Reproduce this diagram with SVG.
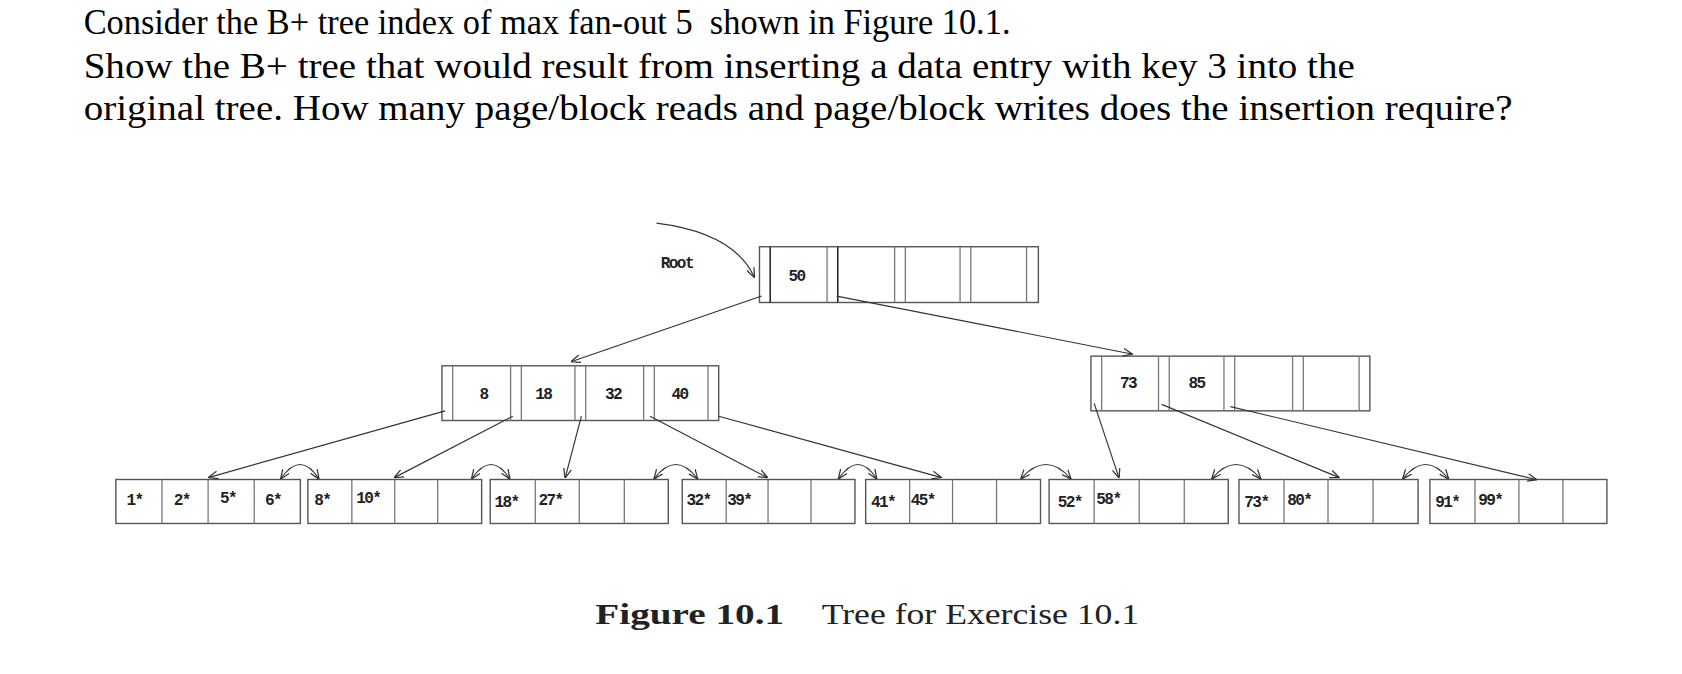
<svg xmlns="http://www.w3.org/2000/svg" width="1682" height="674" viewBox="0 0 1682 674">
<defs>
<marker id="ah" viewBox="0 0 10 10" refX="9" refY="5" markerWidth="9" markerHeight="9" orient="auto-start-reverse" markerUnits="userSpaceOnUse"><path d="M0,1 L10,5 L0,9" fill="none" stroke="#333" stroke-width="1.3"/></marker>
<style>
.b{fill:#fff;stroke:#555;stroke-width:1.3}
.l{stroke:#777;stroke-width:1.2}
.d{stroke:#222;stroke-width:1.4}
.m{font-family:"Liberation Mono",monospace;font-size:15px;font-weight:bold;letter-spacing:-1.5px;fill:#222}
.t{font-family:"Liberation Serif",serif;font-size:33px;fill:#000}
.c{stroke:#333;stroke-width:1.1;fill:none;marker-end:url(#ah)}
.s{stroke:#333;stroke-width:1.1;fill:none;marker-end:url(#ah);marker-start:url(#ah)}
</style>
</defs>
<rect width="1682" height="674" fill="#fff"/>
<g transform="scale(1.0727)">
<g id="question">
<text class="t" x="78" y="32" textLength="864" lengthAdjust="spacingAndGlyphs" xml:space="preserve">Consider the B+ tree index of max fan-out 5  shown in Figure 10.1.</text>
<text class="t" x="78" y="73" textLength="1185" lengthAdjust="spacingAndGlyphs">Show the B+ tree that would result from inserting a data entry with key 3 into the</text>
<text class="t" x="78" y="112" textLength="1332" lengthAdjust="spacingAndGlyphs">original tree. How many page/block reads and page/block writes does the insertion require?</text>
</g>
<g id="root">
<text class="m" x="616" y="250">Root</text>
<rect class="b" x="708" y="230" width="260" height="52"/>
<path class="d" d="M718,230V282M781,230V282"/>
<path class="l" d="M771,230V282M834,230V282M844,230V282M895,230V282M905,230V282M957,230V282"/>
<text class="m" x="735" y="262">50</text>
</g>
<g id="internal-left">
<rect class="b" x="412" y="341" width="258" height="51"/>
<path class="l" d="M422,341V392M476,341V392M486,341V392M536,341V392M546,341V392M600,341V392M610,341V392M660,341V392"/>
<text class="m" x="447" y="372">8</text><text class="m" x="499" y="372">18</text><text class="m" x="564" y="372">32</text><text class="m" x="626" y="372">40</text>
</g>
<g id="internal-right">
<rect class="b" x="1017" y="332" width="260" height="51"/>
<path class="l" d="M1027,332V383M1080,332V383M1090,332V383M1141,332V383M1151,332V383M1205,332V383M1215,332V383M1267,332V383"/>
<text class="m" x="1044" y="362">73</text><text class="m" x="1108" y="362">85</text>
</g>
<g id="leaf1"><rect class="b" x="108" y="447" width="172" height="41"/><path class="l" d="M151,447V488M194,447V488M237,447V488"/>
<text class="m" x="118" y="471">1*</text><text class="m" x="162" y="471">2*</text><text class="m" x="205" y="469">5*</text><text class="m" x="247" y="471">6*</text></g>
<g id="leaf2"><rect class="b" x="287" y="447" width="162" height="41"/><path class="l" d="M328,447V488M368,447V488M408,447V488"/>
<text class="m" x="293" y="471">8*</text><text class="m" x="332" y="469">10*</text></g>
<g id="leaf3"><rect class="b" x="457" y="447" width="166" height="41"/><path class="l" d="M499,447V488M540,447V488M582,447V488"/>
<text class="m" x="461" y="473">18*</text><text class="m" x="502" y="471">27*</text></g>
<g id="leaf4"><rect class="b" x="636" y="447" width="161" height="41"/><path class="l" d="M677,447V488M716,447V488M756,447V488"/>
<text class="m" x="640" y="471">32*</text><text class="m" x="678" y="471">39*</text></g>
<g id="leaf5"><rect class="b" x="807" y="447" width="163" height="41"/><path class="l" d="M848,447V488M888,447V488M929,447V488"/>
<text class="m" x="812" y="473">41*</text><text class="m" x="849" y="471">45*</text></g>
<g id="leaf6"><rect class="b" x="978" y="447" width="167" height="41"/><path class="l" d="M1020,447V488M1062,447V488M1104,447V488"/>
<text class="m" x="986" y="473">52*</text><text class="m" x="1022" y="470">58*</text></g>
<g id="leaf7"><rect class="b" x="1155" y="447" width="167" height="41"/><path class="l" d="M1197,447V488M1238,447V488M1280,447V488"/>
<text class="m" x="1160" y="473">73*</text><text class="m" x="1200" y="471">80*</text></g>
<g id="leaf8"><rect class="b" x="1333" y="447" width="165" height="41"/><path class="l" d="M1375,447V488M1416,447V488M1457,447V488"/>
<text class="m" x="1338" y="473">91*</text><text class="m" x="1378" y="471">99*</text></g>
<g id="connectors">
<path class="c" d="M612,208 C660,214 690,230 703,258"/>
<path class="c" d="M710,276 L533,337"/>
<path class="c" d="M780,276 L1055,330"/>
<path class="c" d="M415,383 L195,445"/>
<path class="c" d="M478,388 L368,445"/>
<path class="c" d="M542,388 L527,445"/>
<path class="c" d="M606,388 L715,445"/>
<path class="c" d="M670,388 L877,445"/>
<path class="c" d="M1020,376 L1043,445"/>
<path class="c" d="M1083,377 L1248,445"/>
<path class="c" d="M1147,379 L1432,447"/>
<path class="s" d="M262,446 Q280,420 297,446"/>
<path class="s" d="M440,446 Q458,420 475,446"/>
<path class="s" d="M610,446 Q630,420 650,446"/>
<path class="s" d="M782,446 Q800,420 817,446"/>
<path class="s" d="M952,446 Q975,420 998,446"/>
<path class="s" d="M1130,446 Q1152,420 1175,446"/>
<path class="s" d="M1308,446 Q1329,420 1350,446"/>
</g>
<g id="caption">
<text x="555" y="582" textLength="176" lengthAdjust="spacingAndGlyphs" style="font-family:'Liberation Serif',serif;font-size:28px;font-weight:bold;fill:#222">Figure 10.1</text>
<text x="766" y="582" textLength="296" lengthAdjust="spacingAndGlyphs" style="font-family:'Liberation Serif',serif;font-size:28px;fill:#222">Tree for Exercise 10.1</text>
</g>
</g>
</svg>
